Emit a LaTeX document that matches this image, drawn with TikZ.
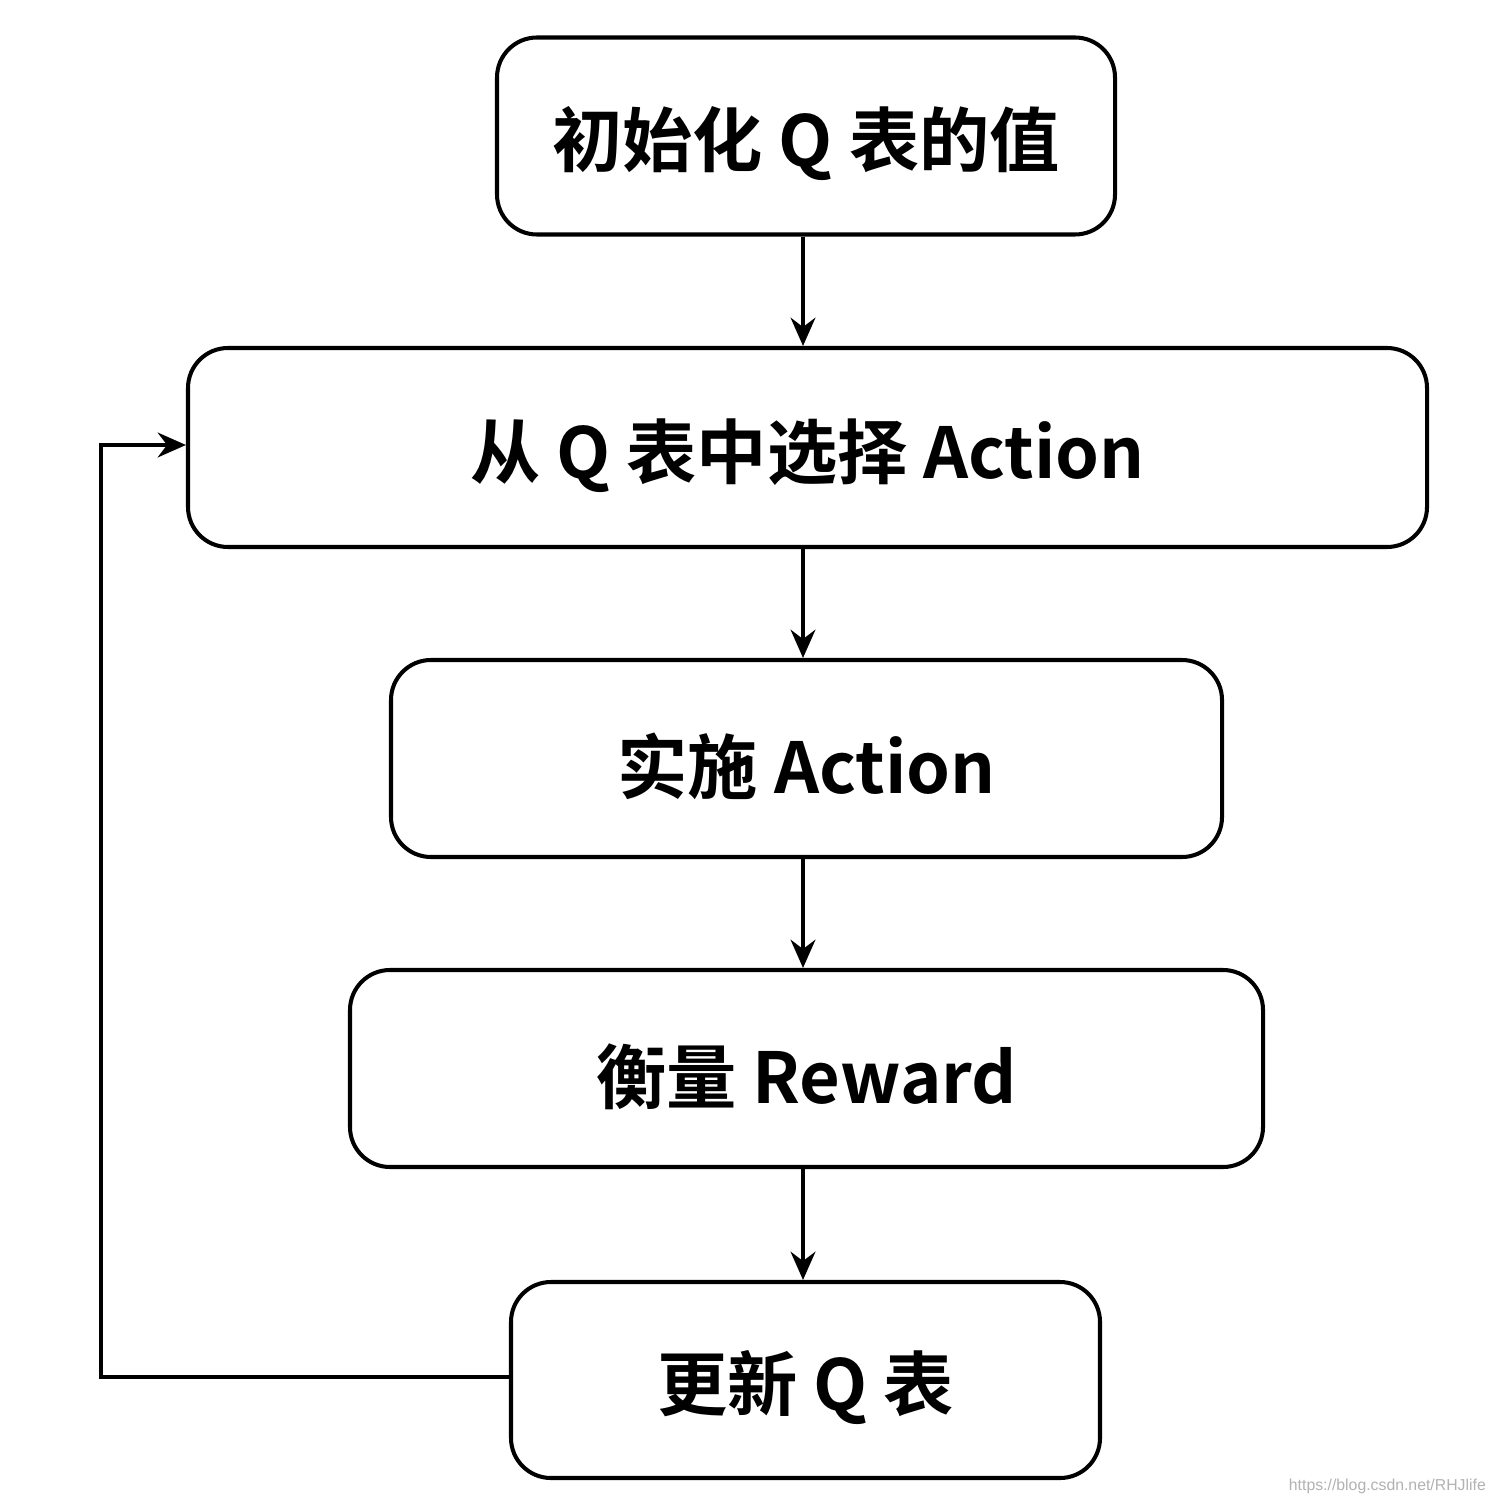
\documentclass[tikz,border=0pt]{standalone}
\usepackage{fontspec}
\setmainfont{Noto Sans CJK SC}[BoldFont={* Bold}]
\newfontfamily\wm{Liberation Sans}
\usetikzlibrary{arrows.meta}
\begin{document}
\begin{tikzpicture}[x=0.02cm,y=-0.02cm,
  box/.style={draw,line width=2.3pt,rounded corners=0.8cm,inner sep=0pt},
  arr/.style={line width=2.6pt,-{Stealth[length=16pt,width=14pt]}},
  lbl/.style={font=\fontsize{40}{44}\selectfont\bfseries,yshift=-0.16cm}]
\useasboundingbox[fill=white] (0,0) rectangle (1498,1506);
\node[box,minimum width=618*0.02cm,minimum height=197*0.02cm] (b1) at (806,136) {};
\node[lbl] at (b1) {初始化 Q 表的值};
\node[box,minimum width=1239*0.02cm,minimum height=199*0.02cm] (b2) at (807.5,447.5) {};
\node[lbl] at (b2) {从 Q 表中选择 Action};
\node[box,minimum width=831*0.02cm,minimum height=197*0.02cm] (b3) at (806.5,758.5) {};
\node[lbl] at (b3) {实施 Action};
\node[box,minimum width=913*0.02cm,minimum height=197*0.02cm] (b4) at (806.5,1068.5) {};
\node[lbl] at (b4) {衡量 Reward};
\node[box,minimum width=589*0.02cm,minimum height=196*0.02cm] (b5) at (805.5,1380) {};
\node[lbl] at (b5) {更新 Q 表};
\draw[arr] (b1.south -| 803,0) -- (b2.north -| 803,0);
\draw[arr] (b2.south -| 803,0) -- (b3.north -| 803,0);
\draw[arr] (b3.south -| 803,0) -- (b4.north -| 803,0);
\draw[arr] (b4.south -| 803,0) -- (b5.north -| 803,0);
\coordinate (c1) at (101,1377);
\coordinate (c2) at (101,445);
\draw[arr] (b5.west |- c1) -- (c1) -- (c2) -- (b2.west |- c2);
\node[font=\wm\fontsize{9}{10}\selectfont,text=gray!60,anchor=south east] (wmk) at (1492,1500) {https://blog.csdn.net/RHJlife};
\end{tikzpicture}
\end{document}
